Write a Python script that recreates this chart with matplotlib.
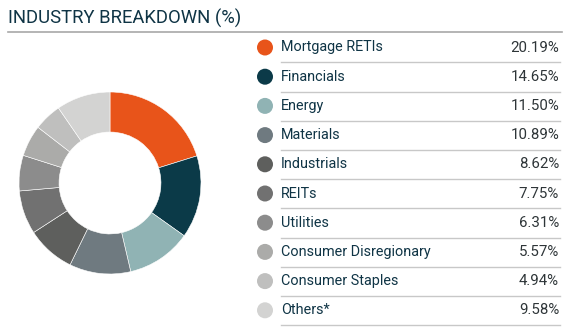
import matplotlib.pyplot as plt
from matplotlib.patches import Circle

# industry weights (%)
industries = ["Mortgage RETIs", "Financials", "Energy", "Materials", "Industrials",
              "REITs", "Utilities", "Consumer Disregionary", "Consumer Staples", "Others*"]
weights = [20.19, 14.65, 11.50, 10.89, 8.62, 7.75, 6.31, 5.57, 4.94, 9.58]
colors = ["#E8541A", "#0B3A48", "#90B3B4", "#6F7A80", "#5E5F5D",
          "#717171", "#8C8C8C", "#ABABA9", "#BFBFBE", "#D3D3D2"]

W, H = 567, 332
fig = plt.figure(figsize=(W / 100, H / 100), dpi=100)
fig.patch.set_facecolor("white")

# overlay axes in pixel coordinates for title, rules and legend rows
ov = fig.add_axes([0, 0, 1, 1])
ov.set_xlim(0, W)
ov.set_ylim(H, 0)
ov.axis("off")

font = ["Roboto", "DejaVu Sans"]
title_color = "#0F3445"

ov.text(8, 18, "INDUSTRY BREAKDOWN (%)", fontsize=13.3, color=title_color,
        family=font, va="center", ha="left")
ov.plot([8, 562], [32, 32], color="#A8A8A8", lw=1.2)

# donut
cx, cy, r = 110, 183, 91
ax = fig.add_axes([(cx - r) / W, (H - cy - r) / H, 2 * r / W, 2 * r / H])
ax.pie(weights, colors=colors, startangle=90, counterclock=False,
       wedgeprops=dict(width=0.44, edgecolor="white", linewidth=0.4))
ax.set_xlim(-1, 1)
ax.set_ylim(-1, 1)
ax.set_aspect("equal")
ax.axis("off")

# legend table
row0, step = 47.5, 29.2
for i, (name, val, col) in enumerate(zip(industries, weights, colors)):
    y = row0 + i * step
    ov.add_patch(Circle((265, y), 8, color=col, lw=0))
    ov.text(281, y, name, fontsize=10.4, color=title_color, family=font,
            va="center", ha="left")
    ov.text(559, y, f"{val:.2f}%", fontsize=10.8, color="#2E3538", family=font,
            va="center", ha="right")
    ov.plot([281, 560], [y + 14.8, y + 14.8], color="#C8C8C8", lw=1.0)

fig.savefig("out.png", dpi=100)
